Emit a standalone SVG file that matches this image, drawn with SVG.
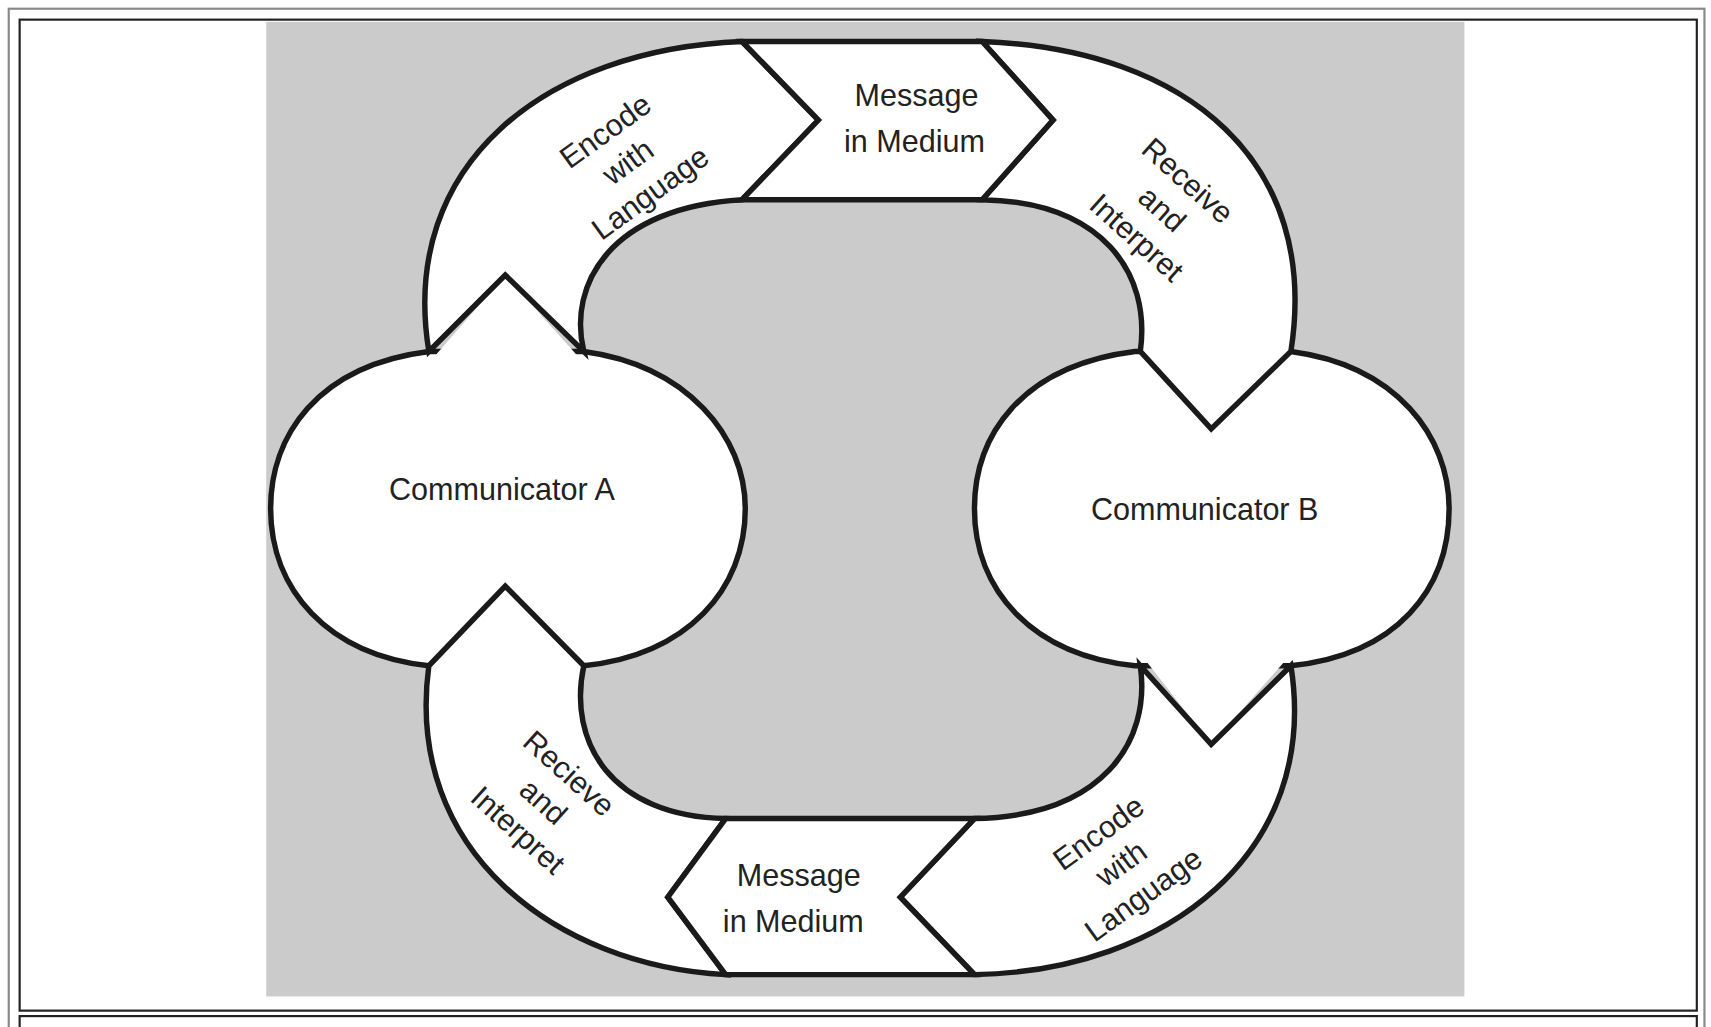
<svg xmlns="http://www.w3.org/2000/svg" width="1711" height="1027" viewBox="0 0 1711 1027">
<style>
.s{fill:#fff;stroke:#1a1a1a;stroke-width:5;stroke-linejoin:miter}
.t{font-family:"Liberation Sans",Arial,sans-serif;font-size:28px;fill:#222;text-anchor:middle}
</style>
<rect width="1711" height="1027" fill="#fff"/>
<g transform="scale(1.0912,1.0914)">
<rect x="8" y="8" width="1554" height="960" fill="none" stroke="#888" stroke-width="2"/>
<rect x="18" y="18" width="1537" height="908" fill="none" stroke="#222" stroke-width="2"/>
<rect x="18" y="931" width="1537" height="40" fill="none" stroke="#222" stroke-width="2"/>
<rect x="244" y="20" width="1098" height="893" fill="#cbcbcb"/>
<g id="commA"><path class="s" d="M393,322 C290,335 248,400 248,466 C248,540 300,600 393,610 L535,610 C630,600 683,540 683,466 C683,400 630,335 535,322 Z"/><text class="t" x="460" y="458">Communicator A</text></g>
<g id="commB"><path class="s" d="M1040,322 C935,335 893,400 893,466 C893,540 945,600 1040,610 L1183,610 C1280,600 1328,540 1328,466 C1328,400 1280,335 1183,322 Z"/><text class="t" x="1104" y="476">Communicator B</text></g>
<g id="connectors">
<polygon points="397,328 463,252 531,328" fill="#fff"/>
<polygon points="1049,604 1110,682 1179,604" fill="#fff"/>
<path class="s" d="M393,322 C365,150 500,45 680,38 L750,110 L680,183 C560,190 520,260 535,322 L463,252 Z"/>
<path class="s" d="M900,38 C1090,45 1210,150 1183,322 L1110,393 L1045,322 C1055,250 1010,185 900,183 L965,110 Z"/>
<path class="s" d="M535,610 L463,537 L393,610 C370,780 510,885 665,893 L612,822 L665,750 C560,748 520,680 535,610 Z"/>
<path class="s" d="M893,750 C1010,748 1055,680 1045,610 L1110,682 L1183,610 C1210,780 1070,890 893,893 L825,822 Z"/>
</g>
<g id="msgTop"><polygon class="s" points="680,38 900,38 965,110 900,183 680,183 750,110"/><text class="t" x="840" y="97">Message</text><text class="t" x="838" y="139">in Medium</text></g>
<g id="msgBot"><polygon class="s" points="665,750 893,750 825,822 893,893 665,893 612,822"/><text class="t" x="732" y="812">Message</text><text class="t" x="727" y="854">in Medium</text></g>
<g id="encTop" transform="translate(578,152) rotate(-36)"><text class="t" x="0" y="-30">Encode</text><text class="t" x="0" y="5">with</text><text class="t" x="0" y="40">Language</text></g>
<g id="recTop" transform="translate(1062,195) rotate(42)"><text class="t" x="0" y="-30">Receive</text><text class="t" x="0" y="5">and</text><text class="t" x="0" y="40">Interpret</text></g>
<g id="recBot" transform="translate(495,738) rotate(42)"><text class="t" x="0" y="-30">Recieve</text><text class="t" x="0" y="5">and</text><text class="t" x="0" y="40">Interpret</text></g>
<g id="encBot" transform="translate(1030,795) rotate(-36)"><text class="t" x="0" y="-30">Encode</text><text class="t" x="0" y="5">with</text><text class="t" x="0" y="40">Language</text></g>
</g>
</svg>
